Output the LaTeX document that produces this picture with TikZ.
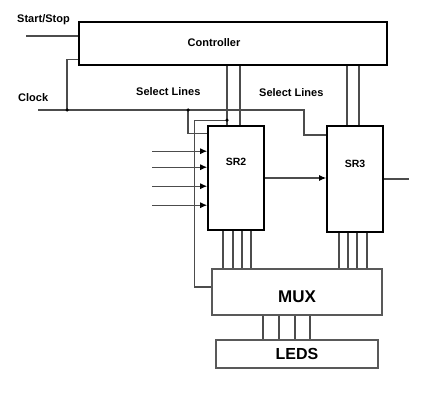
\documentclass[tikz,border=0pt]{standalone}
\usepackage{fontspec}
\setmainfont{Liberation Sans}
\usetikzlibrary{arrows, arrows.meta, calc}

\begin{document}
\begin{tikzpicture}[x=1pt, y=-1pt,
	blockbox/.style={draw, line width=1.6pt, inner sep=0pt},
	outbox/.style={draw=black!65, line width=1.2pt, inner sep=0pt},
	wire/.style={draw=black!70, line width=1.1pt},
	tip/.style={-{Latex[length=7pt, width=6pt, black]}},
	lbl/.style={font=\fontsize{11}{13}\selectfont\bfseries, inner sep=0pt},
	junction/.style={circle, fill, inner sep=0pt, minimum size=3.5pt}]
	\useasboundingbox (0,0) rectangle (436,401);
	\node [blockbox, minimum width=308pt, minimum height=43pt] (ctrl) at (233,43.5) {};
	\node [blockbox, minimum width=56pt, minimum height=104pt] (sr2) at (236,178) {};
	\node [blockbox, minimum width=56pt, minimum height=106pt] (sr3) at (355,179) {};
	\node [outbox, minimum width=170pt, minimum height=46pt] (mux) at (297,292) {};
	\node [outbox, minimum width=162pt, minimum height=28pt] (leds) at (297,354) {};
	\node [lbl] (ctrllbl) at (214,43) {Controller};
	\node [lbl, font=\fontsize{10.5}{12}\selectfont\bfseries] (sr2lbl) at ($(sr2.north)+(0,37)$) {SR2};
	\node [lbl, font=\fontsize{10.5}{12}\selectfont\bfseries] (sr3lbl) at ($(sr3.north)+(0,39)$) {SR3};
	\node [lbl, font=\fontsize{17}{20}\selectfont\bfseries] (muxlbl) at (297,297) {MUX};
	\node [lbl, font=\fontsize{16}{19}\selectfont\bfseries] (ledslbl) at (297,354) {LEDS};
	\node [lbl, anchor=west] (startlbl) at (17,20) {Start/Stop};
	\node [lbl, anchor=west] (clocklbl) at (18,98) {Clock};
	\node [lbl, anchor=west] (sel2lbl) at (136,92) {Select Lines};
	\node [lbl, anchor=west] (sel3lbl) at (259,93) {Select Lines};
	\coordinate (startin) at (26,36);
	\coordinate (clkin) at (38,110);
	\coordinate (clkc) at (67,110);
	\coordinate (clk2) at (188,110);
	\coordinate (clk3) at (304,135);
	\coordinate (sel2a) at ($(sr2.north)+(-9,0)$);
	\coordinate (sel2b) at ($(sr2.north)+(4,0)$);
	\coordinate (sel3a) at ($(sr3.north)+(-8,0)$);
	\coordinate (sel3b) at ($(sr3.north)+(4,0)$);
	\coordinate (selmux) at ($(sel2a)+(0,-5)$);
	\coordinate (muxsel) at ($(mux.west)+(0,-5)$);
	\draw [wire] (startin) -- (startin -| ctrl.west);
	\draw [wire] (clkin) -| (clk3) -- (clk3 -| sr3.west);
	\draw [wire] (clkc) |- ($(ctrl.south west)+(0,-6)$);
	\draw [wire] (clk2) |- ($(sr2.north west)+(0,8)$);
	\foreach \c in {sel2a, sel2b, sel3a, sel3b}
		\draw [wire] (\c |- ctrl.south) -- (\c);
	\draw [wire] (selmux) -| ($(muxsel)+(-17,0)$) -- (muxsel);
	\foreach \dy in {26,42,61,80}
		\draw [wire, tip] ($(sr2.north west)+(-55,\dy)$) -- ($(sr2.north west)+(0,\dy)$);
	\draw [wire, tip] (sr2.east) -- (sr2.east -| sr3.west);
	\draw [wire] (sr3.east) -- ++(25,0);
	\foreach \dx in {-13,-3,6,15}
		\draw [wire] ($(sr2.south)+(\dx,0)$) coordinate (w) -- (w |- mux.north);
	\foreach \dx in {-16,-7,2,12}
		\draw [wire] ($(sr3.south)+(\dx,0)$) coordinate (w) -- (w |- mux.north);
	\foreach \dx in {-34,-18,-2,13}
		\draw [wire] ($(mux.south)+(\dx,0)$) coordinate (w) -- (w |- leds.north);
	\node [junction] at (clkc) {};
	\node [junction] at (clk2) {};
	\node [junction] at (selmux) {};
\end{tikzpicture}
\end{document}
